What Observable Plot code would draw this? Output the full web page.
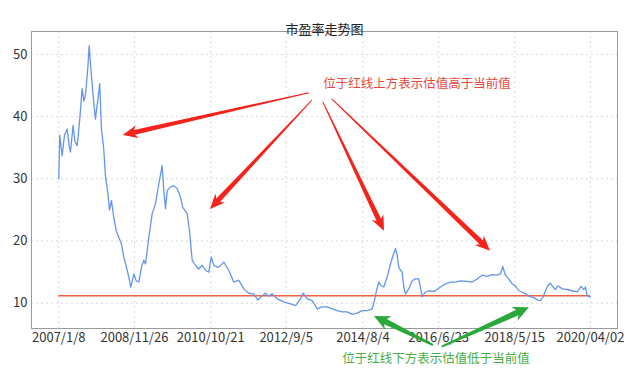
<!DOCTYPE html>
<html><head><meta charset="utf-8">
<script src="https://cdn.jsdelivr.net/npm/d3@7"></script>
<script src="https://cdn.jsdelivr.net/npm/@observablehq/plot@0.6"></script>
<style>body{margin:0;background:#fff} svg{display:block}</style>
</head><body><div id="chart"></div>
<script>
// ---- data (decimal years, PE values) ----
const years = [2007.020,2007.045,2007.105,2007.162,2007.229,2007.274,2007.311,2007.378,2007.423,2007.478,
2007.543,2007.602,2007.647,2007.684,2007.742,2007.777,2007.826,2007.891,2007.933,2008.016,
2008.040,2008.083,2008.140,2008.182,2008.244,2008.282,2008.331,2008.389,2008.449,2008.513,
2008.580,2008.638,2008.722,2008.762,2008.812,2008.887,2008.946,2009.011,2009.078,2009.135,
2009.178,2009.260,2009.344,2009.427,2009.509,2009.593,2009.633,2009.675,2009.718,2009.800,
2009.882,2009.967,2010.049,2010.106,2010.216,2010.280,2010.340,2010.422,2010.504,2010.589,
2010.671,2010.753,2010.813,2010.878,2010.962,2011.002,2011.126,2011.251,2011.375,2011.500,
2011.624,2011.749,2011.873,2011.973,2012.082,2012.164,2012.246,2012.331,2012.455,2012.620,
2012.786,2012.911,2013.035,2013.102,2013.202,2013.326,2013.451,2013.575,2013.700,2013.824,
2013.949,2014.073,2014.198,2014.322,2014.446,2014.571,2014.695,2014.820,2014.877,2014.927,
2014.984,2015.044,2015.109,2015.193,2015.275,2015.342,2015.400,2015.442,2015.482,2015.524,
2015.566,2015.606,2015.648,2015.730,2015.815,2015.897,2015.979,2016.021,2016.063,2016.145,
2016.228,2016.312,2016.394,2016.519,2016.643,2016.768,2016.892,2017.016,2017.183,2017.307,
2017.432,2017.556,2017.681,2017.805,2017.929,2018.011,2018.069,2018.136,2018.218,2018.303,
2018.385,2018.468,2018.553,2018.635,2018.717,2018.842,2018.941,2019.008,2019.075,2019.132,
2019.190,2019.257,2019.324,2019.381,2019.438,2019.548,2019.672,2019.797,2019.921,2020.021,
2020.086,2020.128,2020.170,2020.252];
const pe = [30.0,37.0,33.7,37.0,38.0,35.5,34.3,38.6,36.0,35.3,
39.6,44.5,42.5,43.4,47.7,51.4,47.1,42.3,39.6,43.9,
45.3,38.0,34.8,30.5,27.6,25.0,26.5,23.8,21.7,20.6,
19.5,17.4,15.3,14.2,12.6,14.7,13.6,13.4,15.8,16.9,
16.3,20.6,24.4,26.0,29.2,32.1,28.1,25.2,28.1,28.7,
28.9,28.4,27.0,25.4,24.4,21.2,16.9,16.1,15.5,16.1,
15.3,15.0,17.4,16.1,15.8,15.8,16.6,15.3,13.4,13.7,
12.3,11.6,11.5,10.5,11.2,11.6,11.1,11.5,10.7,10.2,
9.9,9.6,10.7,11.6,10.7,10.4,9.1,9.4,9.4,9.1,
8.8,8.6,8.6,8.2,8.4,8.8,8.8,9.1,10.4,12.0,
13.4,12.8,12.6,14.2,16.3,17.7,18.8,17.7,15.8,15.3,
15.0,12.6,11.5,12.3,13.6,13.9,13.9,12.6,11.0,11.8,
12.0,11.9,12.0,12.6,13.1,13.4,13.4,13.6,13.5,13.4,
13.9,14.5,14.3,14.6,14.5,14.7,15.9,14.5,13.9,13.1,
12.8,12.0,11.8,11.5,11.1,10.9,10.5,10.4,11.0,12.0,
12.8,13.2,12.6,12.2,12.8,12.3,12.2,12.0,11.8,12.7,
12.2,12.6,11.2,11.0];
const currentPE = 11.2;
const xTickLabels = ["2007/1/8","2008/11/26","2010/10/21","2012/9/5","2014/8/4","2016/6/23","2018/5/15","2020/04/02"];
const yTicks = [10,20,30,40,50];
const title = "市盈率走势图";
const noteAbove = "位于红线上方表示估值高于当前值";
const noteBelow = "位于红线下方表示估值低于当前值";
// annotation arrows: tail (x1,y1) -> tip (x2,y2), in decimal years / PE units
const aboveArrows = [
  {x1:2013.259,y1:43.76,x2:2008.623,y2:36.96},
  {x1:2013.334,y1:42.59,x2:2010.795,y2:25.06},
  {x1:2013.600,y1:42.32,x2:2015.126,y2:21.58},
  {x1:2013.824,y1:42.75,x2:2017.764,y2:18.36}
];
const belowArrows = [
  {x1:2016.345,y1:3.20,x2:2014.877,y2:7.86},
  {x1:2016.562,y1:2.93,x2:2018.734,y2:9.26}
];

// ---- helpers ----
function toDate(y){const yr=Math.floor(y);const s=Date.UTC(yr,0,1),e=Date.UTC(yr+1,0,1);return new Date(s+(y-yr)*(e-s));}
const parse = d3.utcParse("%Y/%m/%d");
const tickDates = xTickLabels.map(parse);
const series = years.map((y,i)=>({date:toDate(y), pe:pe[i]}));
const first = series[0].date, last = series[series.length-1].date;

function taperedArrows(list, color, headLen, headHalf, shaftHalf, tailHalf){
  return (index, scales) => {
    const ns="http://www.w3.org/2000/svg";
    const g=document.createElementNS(ns,"g");
    for(const a of list){
      const tx=scales.x(toDate(a.x1)), ty=scales.y(a.y1);
      const hx=scales.x(toDate(a.x2)), hy=scales.y(a.y2);
      const dx=hx-tx, dy=hy-ty, L=Math.hypot(dx,dy), ux=dx/L, uy=dy/L, nx=-uy, ny=ux;
      const bx=hx-ux*headLen, by=hy-uy*headLen;
      const cx=bx+ux*headLen*0.2, cy=by+uy*headLen*0.2;
      const pts=[
        [tx+nx*tailHalf, ty+ny*tailHalf],
        [cx+nx*shaftHalf, cy+ny*shaftHalf],
        [bx+nx*headHalf, by+ny*headHalf],
        [hx, hy],
        [bx-nx*headHalf, by-ny*headHalf],
        [cx-nx*shaftHalf, cy-ny*shaftHalf],
        [tx-nx*tailHalf, ty-ny*tailHalf]
      ];
      const p=document.createElementNS(ns,"polygon");
      p.setAttribute("points", pts.map(q=>q.join(",")).join(" "));
      p.setAttribute("fill", color);
      g.appendChild(p);
    }
    return g;
  };
}

const font = '"Noto Sans CJK SC", "Noto Sans", sans-serif';
const chart = Plot.plot({
  width: 640, height: 380,
  marginLeft: 31, marginRight: 23, marginTop: 31, marginBottom: 52,
  style: {fontFamily: font, fontSize: "13px", background: "#fff", overflow: "visible"},
  x: {type: "utc", domain: [toDate(2006.341), toDate(2020.924)], axis: null},
  y: {domain: [5.93, 53.68], axis: null},
  marks: [
    Plot.ruleY(yTicks, {stroke: "#d9d9d9", strokeDasharray: "2,3"}),
    Plot.ruleX(tickDates, {stroke: "#d9d9d9", strokeDasharray: "2,3"}),
    Plot.ruleY([currentPE], {x1: () => first, x2: () => last, stroke: "#f0603f", strokeWidth: 1.5}),
    Plot.line(series, {x: "date", y: "pe", stroke: "#6495ed", strokeWidth: 1.3}),
    Plot.frame({stroke: "#9a9a9a"}),
    Plot.text(tickDates, {x: d => d, frameAnchor: "bottom", lineAnchor: "top", dy: 4, text: (d,i) => xTickLabels[i], fontSize: 13, fill: "#333"}),
    Plot.text(yTicks, {y: d => d, frameAnchor: "left", textAnchor: "end", dx: -4, text: d => String(d), fontSize: 13, fill: "#333"}),
    Plot.text([title], {frameAnchor: "top", dy: -7, text: d => d, fontSize: 13, fill: "#222"}),
    Plot.text([noteAbove], {x: () => toDate(2013.600), y: () => 45.16, textAnchor: "start", text: d => d, fontSize: 12.5, fill: "#e8473d"}),
    Plot.text([noteBelow], {x: () => toDate(2014.073), y: () => 1.06, textAnchor: "start", text: d => d, fontSize: 12.5, fill: "#46ad46"}),
    taperedArrows(aboveArrows, "#f5231b", 15, 6.5, 2.5, 0.5),
    taperedArrows(belowArrows, "#2aa83a", 16, 7.5, 3, 1)
  ]
});
document.getElementById("chart").appendChild(chart);
</script>
</body></html>
